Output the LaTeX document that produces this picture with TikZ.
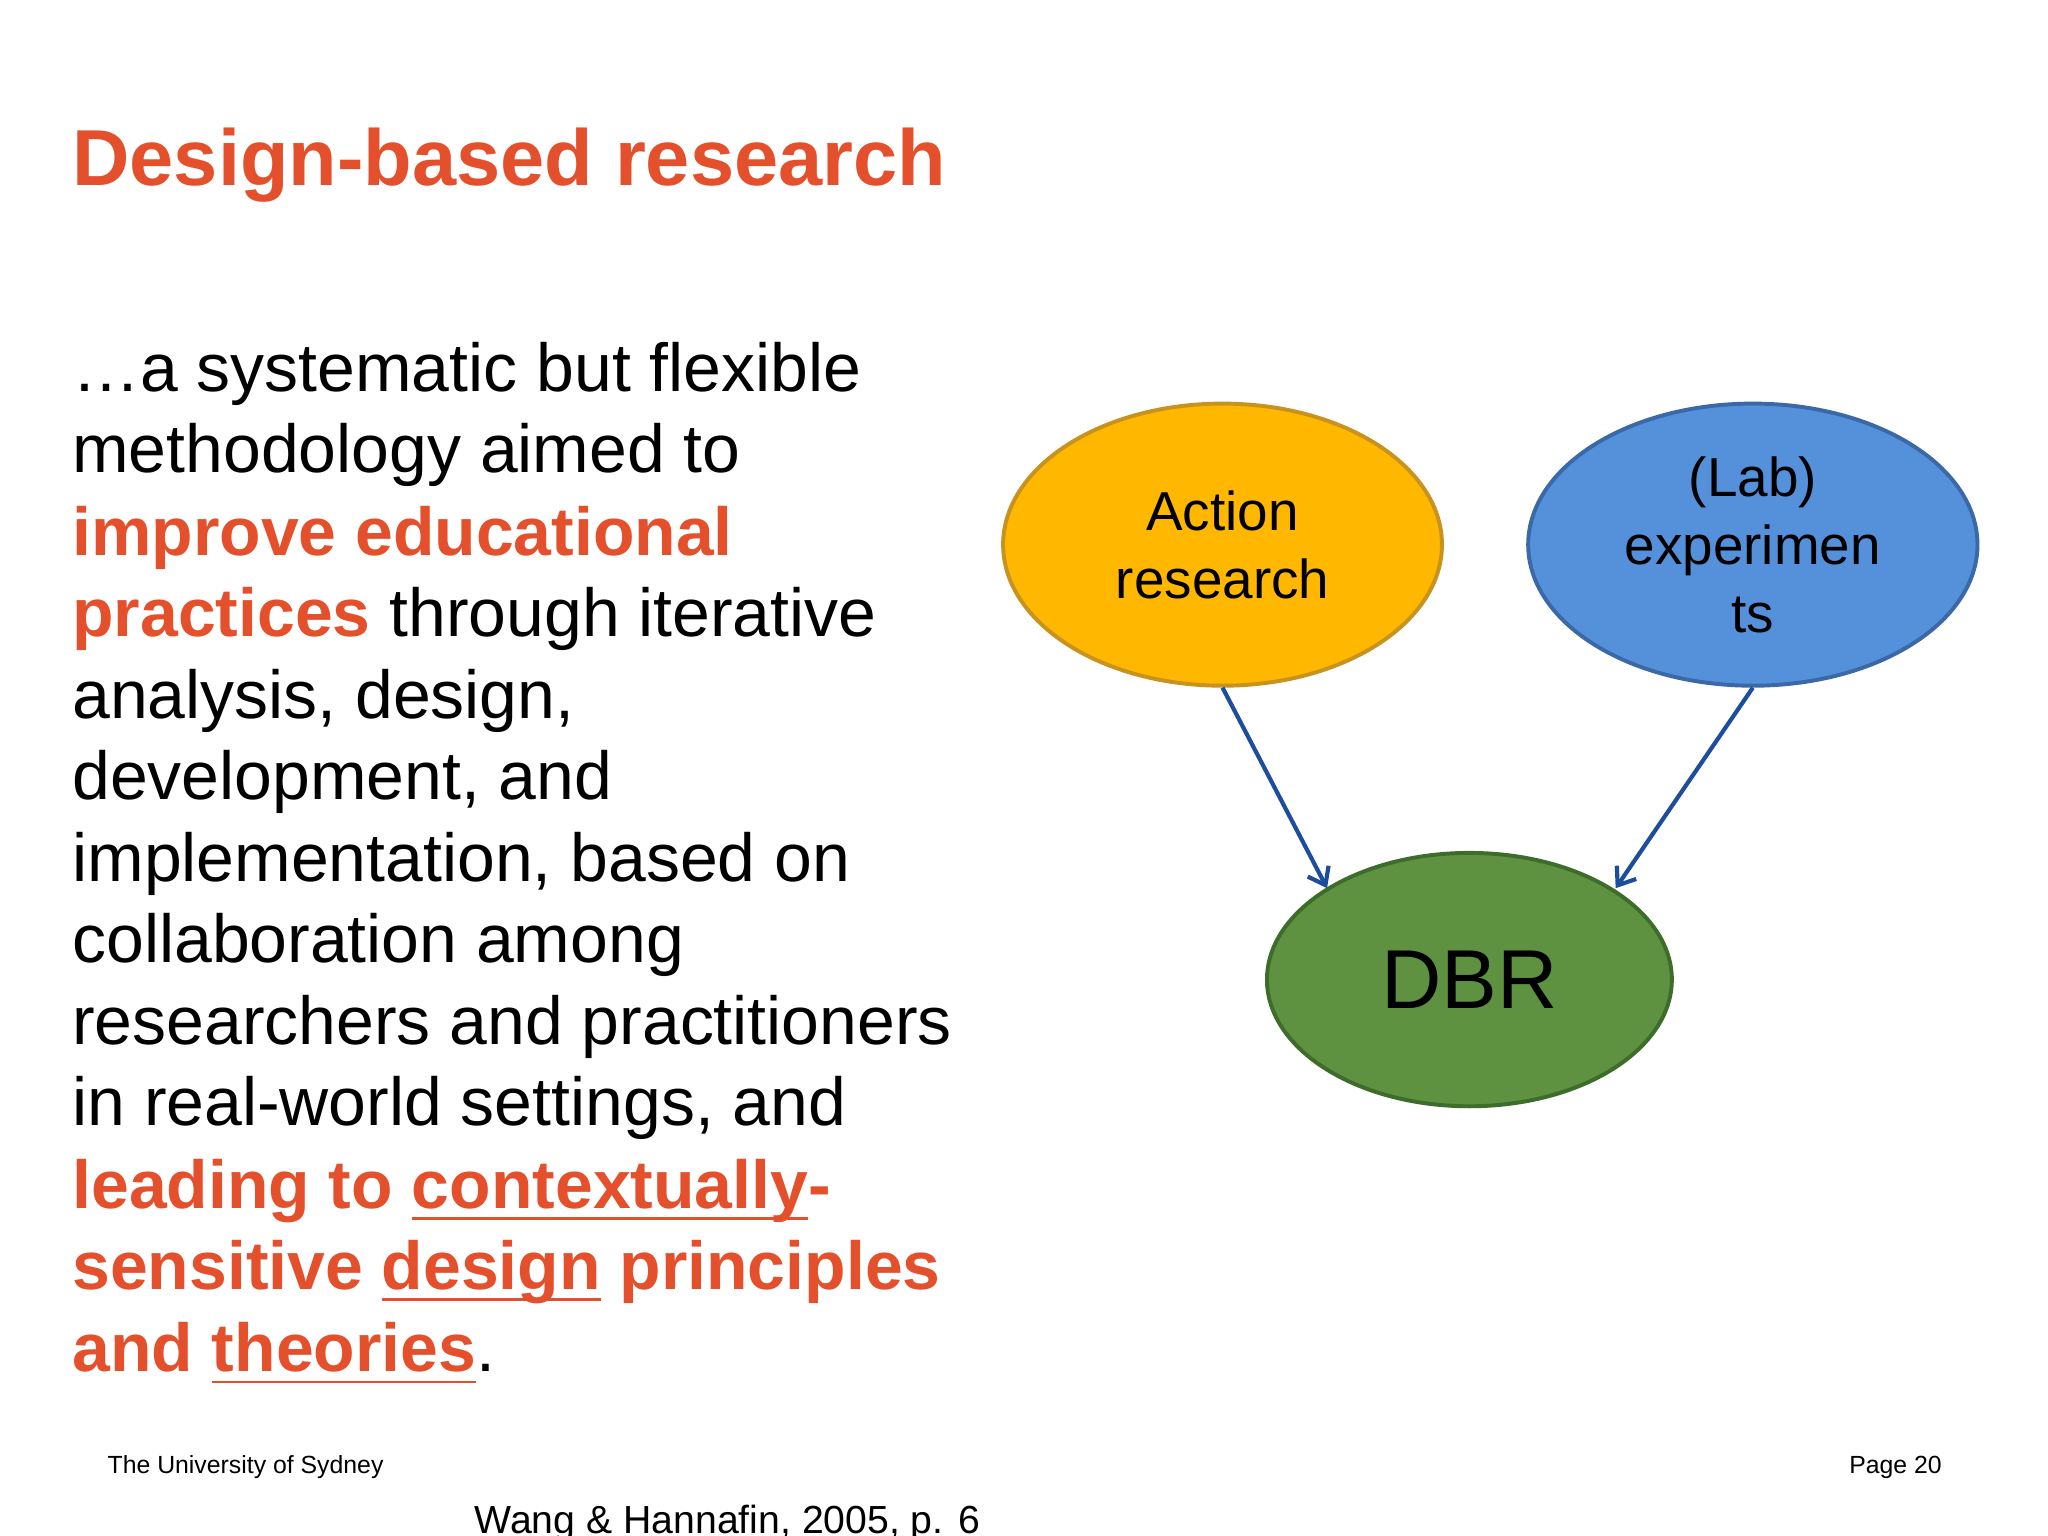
\documentclass[tikz,border=0pt]{standalone}
\usepackage{fontspec}
\setmainfont{Liberation Sans}
\usetikzlibrary{shapes.geometric,arrows.meta}
\definecolor{hl}{HTML}{E4502C}
\definecolor{yel}{HTML}{FFB700}
\definecolor{yelb}{HTML}{C8921E}
\definecolor{blu}{HTML}{5591DB}
\definecolor{blub}{HTML}{3B68A6}
\definecolor{grn}{HTML}{5E9140}
\definecolor{grnb}{HTML}{3E6C2A}
\definecolor{arr}{HTML}{1D4E9E}
\newcommand{\hb}[1]{\textcolor{hl}{\textbf{#1}}}
\newcommand{\hu}[1]{\textcolor{hl}{\textbf{\setbox0\hbox{#1}\rlap{\rule[-4.5pt]{\wd0}{1pt}}\box0}}}
\begin{document}
\begin{tikzpicture}[x=0.5pt,y=-0.5pt,
  body/.style={anchor=base west,inner sep=0,font=\fontsize{26}{30}\selectfont},
  ell/.style={ellipse,draw,line width=1.5pt,align=center,inner sep=0},
  con/.style={draw=arr,line width=1.6pt,-{Straight Barb[length=6pt,width=9pt]}}]
\useasboundingbox[fill=white] (0,0) rectangle (1568,1176);
\node[anchor=base west,inner sep=0,text=hl,font=\fontsize{30.4}{36}\selectfont\bfseries] (title) at (55,142) {Design-based research};
\node[body] (l1) at (55,300) {…a systematic but flexible};
\node[body] (l2) at (55,362) {methodology aimed to};
\node[body] (l3) at (55,425) {\hb{improve educational}};
\node[body] (l4) at (55,487) {\hb{practices} through iterative};
\node[body] (l5) at (55,550) {analysis, design,};
\node[body] (l6) at (55,612) {development, and};
\node[body] (l7) at (55,675) {implementation, based on};
\node[body] (l8) at (55,737) {collaboration among};
\node[body] (l9) at (55,800) {researchers and practitioners};
\node[body] (l10) at (55,862) {in real-world settings, and};
\node[body] (l11) at (55,925) {\hb{leading to }\hu{contextually}\hb{-}};
\node[body] (l12) at (55,987) {\hb{sensitive }\hu{design}\hb{ principles}};
\node[body] (l13) at (55,1050) {\hb{and }\hu{theories}.};
\node[ell,fill=yel,draw=yelb,minimum width=168pt,minimum height=108pt,font=\fontsize{21}{26}\selectfont] (ar) at (936,417) {Action\\research};
\node[ell,fill=blu,draw=blub,minimum width=172pt,minimum height=108pt,font=\fontsize{21}{26}\selectfont] (lab) at (1342,417) {(Lab)\\experimen\\ts};
\node[ell,fill=grn,draw=grnb,minimum width=155pt,minimum height=97pt,font=\fontsize{32}{36}\selectfont] (dbr) at (1125,750) {DBR};
\draw[con] (ar.south) -- (1016,680);
\draw[con] (lab.south) -- (1237,680);
\node[anchor=base west,inner sep=0,font=\fontsize{9.5}{11}\selectfont] (uni) at (82,1128) {The University of Sydney};
\node[anchor=base east,inner sep=0,font=\fontsize{9.5}{11}\selectfont] (pg) at (1487,1128) {Page 20};
\node[anchor=base west,inner sep=0,font=\fontsize{15}{17}\selectfont] (ref) at (363,1174) {Wang \& Hannafin, 2005, p. 6};
\end{tikzpicture}
\end{document}
